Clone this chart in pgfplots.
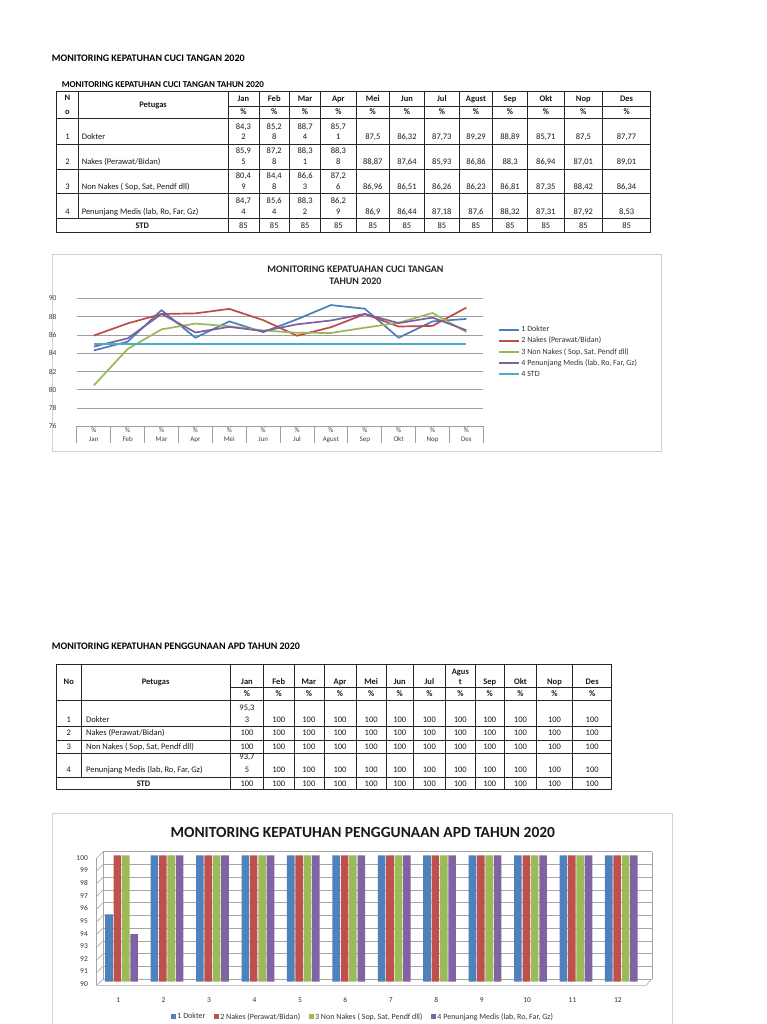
\documentclass[border=0pt]{standalone}
\usepackage{fontspec}
\setmainfont{Carlito}
\usepackage{pgfplots}
\pgfplotsset{compat=1.18}
\definecolor{cA}{HTML}{4A7EBB}
\definecolor{cB}{HTML}{BE4B48}
\definecolor{cC}{HTML}{98B954}
\definecolor{cD}{HTML}{7D60A0}
\definecolor{cE}{HTML}{4BACC6}
\definecolor{bA}{HTML}{4F81BD}
\definecolor{bB}{HTML}{C0504D}
\definecolor{bC}{HTML}{9BBB59}
\definecolor{bD}{HTML}{8064A2}
\newcommand{\tf}{\fontsize{8.5}{10}\selectfont}
\tikzset{tc/.style={inner sep=0pt, font=\tf, anchor=base, text=black!90},
         tb/.style={tc, font=\tf\bfseries},
         tl/.style={tc, anchor=base west}}
\begin{document}
\begin{tikzpicture}
\begin{scope}[x=1pt,y=-1pt]
\useasboundingbox[fill=white] (0,0) rectangle (768,1024);
% ---------------- titles
\node[anchor=west,inner sep=0pt,font=\fontsize{10}{12}\selectfont\bfseries] at (51.7,58.3) {MONITORING KEPATUHAN CUCI TANGAN 2020};
\node[anchor=west,inner sep=0pt,font=\fontsize{9}{11}\selectfont\bfseries] at (61.7,85) {MONITORING KEPATUHAN CUCI TANGAN TAHUN 2020};
% ---------------- table 1
\begin{scope}[draw=black!85, line width=0.5pt]
\foreach \x in {228.3,259.3,290,321,356.7,390,425,460,493.3,528.3,565,603.3} \draw (\x,91.7) -- (\x,233);
\draw (78.3,91.7) -- (78.3,219);
\draw (228.3,106) -- (651.7,106);
\foreach \y in {118,144,169,194,219} \draw (56.7,\y) -- (651.7,\y);
\draw[line width=0.9pt] (56.7,91.7) rectangle (651.7,233);
\end{scope}
\node[tb] at (67.5,101.1) {N};
\node[tb] at (67.5,114.3) {o};
\node[tb] at (153.3,107.8) {Petugas};
\node[tb] at (142.5,228.8) {STD};
\foreach \cx/\m in {243.8/Jan,274.65/Feb,305.5/Mar,338.85/Apr,373.35/Mei,407.5/Jun,442.5/Jul,476.65/Agust,510.8/Sep,546.65/Okt,584.15/Nop,627.5/Des}{
  \node[tb] at (\cx,101.8) {\m};
  \node[tb] at (\cx,114.8) {\%};
  \node[tc] at (\cx,228.8) {85};
}
\node[tc] at (67.5,139.5) {1}; \node[tl] at (81.7,139.5) {Dokter};
\node[tc] at (67.5,164.5) {2}; \node[tl] at (81.7,164.5) {Nakes (Perawat/Bidan)};
\node[tc] at (67.5,189.5) {3}; \node[tl] at (81.7,189.5) {Non Nakes ( Sop, Sat, Pendf dll)};
\node[tc] at (67.5,214.5) {4}; \node[tl] at (81.7,214.5) {Penunjang Medis (lab, Ro, Far, Gz)};
\foreach \cx/\a/\b in {243.8/{84,3}/2, 274.65/{85,2}/8, 305.5/{88,7}/4, 338.85/{85,7}/1, 373.35//{87,5}, 407.5//{86,32}, 442.5//{87,73}, 476.65//{89,29}, 510.8//{88,89}, 546.65//{85,71}, 584.15//{87,5}, 627.5//{87,77}}{
  \node[tc] at (\cx,129.5) {\a}; \node[tc] at (\cx,139.5) {\b};}
\foreach \cx/\a/\b in {243.8/{85,9}/5, 274.65/{87,2}/8, 305.5/{88,3}/1, 338.85/{88,3}/8, 373.35//{88,87}, 407.5//{87,64}, 442.5//{85,93}, 476.65//{86,86}, 510.8//{88,3}, 546.65//{86,94}, 584.15//{87,01}, 627.5//{89,01}}{
  \node[tc] at (\cx,153.8) {\a}; \node[tc] at (\cx,164.5) {\b};}
\foreach \cx/\a/\b in {243.8/{80,4}/9, 274.65/{84,4}/8, 305.5/{86,6}/3, 338.85/{87,2}/6, 373.35//{86,96}, 407.5//{86,51}, 442.5//{86,26}, 476.65//{86,23}, 510.8//{86,81}, 546.65//{87,35}, 584.15//{88,42}, 627.5//{86,34}}{
  \node[tc] at (\cx,178.5) {\a}; \node[tc] at (\cx,189.5) {\b};}
\foreach \cx/\a/\b in {243.8/{84,7}/4, 274.65/{85,6}/4, 305.5/{88,3}/2, 338.85/{86,2}/9, 373.35//{86,9}, 407.5//{86,44}, 442.5//{87,18}, 476.65//{87,6}, 510.8//{88,32}, 546.65//{87,31}, 584.15//{87,92}, 627.5//{8,53}}{
  \node[tc] at (\cx,203.5) {\a}; \node[tc] at (\cx,214.5) {\b};}
% ---------------- chart 1 frame
\draw[draw=black!18, line width=0.8pt] (52,255) rectangle (662,452);
\node[inner sep=0pt, align=center, font=\fontsize{10}{12}\selectfont\bfseries, text=black!85] at (356,276) {MONITORING KEPATUAHAN CUCI TANGAN\\TAHUN 2020};
% ---------------- title 3
\node[anchor=west,inner sep=0pt,font=\fontsize{10}{12}\selectfont\bfseries] at (51.7,646.7) {MONITORING KEPATUHAN PENGGUNAAN APD TAHUN 2020};
% ---------------- table 2
\begin{scope}[draw=black!85, line width=0.5pt]
\foreach \x in {230.7,264,294.3,324.3,356.7,386.7,414,446,476,505,537.3,573.3} \draw (\x,665) -- (\x,791);
\draw (81,665) -- (81,778.5);
\draw (230.7,688.5) -- (612.7,688.5);
\foreach \y in {701.5,727,741,754,778.5} \draw (56.7,\y) -- (612.7,\y);
\draw[line width=0.9pt] (56.7,665) rectangle (612.7,791);
\end{scope}
\node[tb] at (68.85,685.8) {No};
\node[tb] at (155.85,685.8) {Petugas};
\node[tb] at (143.7,787.8) {STD};
\foreach \cx/\m in {247.35/Jan,279.15/Feb,309.3/Mar,340.5/Apr,371.7/Mei,400.35/Jun,430/Jul,490.5/Sep,521.15/Okt,555.3/Nop,593/Des}{
  \node[tb] at (\cx,685.8) {\m};}
\node[tb] at (461,675.5) {Agus};
\node[tb] at (461,685.8) {t};
\foreach \cx in {247.35,279.15,309.3,340.5,371.7,400.35,430,461,490.5,521.15,555.3,593}{
  \node[tb] at (\cx,697.8) {\%};
  \node[tc] at (\cx,736.8) {100};
  \node[tc] at (\cx,750.3) {100};
  \node[tc] at (\cx,787.8) {100};}
\foreach \cx in {279.15,309.3,340.5,371.7,400.35,430,461,490.5,521.15,555.3,593}{
  \node[tc] at (\cx,723.8) {100};
  \node[tc] at (\cx,773.8) {100};}
\node[tc] at (247.35,711.8) {95,3}; \node[tc] at (247.35,723.8) {3};
\node[tc] at (247.35,761) {93,7}; \node[tc] at (247.35,773.8) {5};
\node[tc] at (68.85,723.8) {1}; \node[tl] at (86,723.8) {Dokter};
\node[tc] at (68.85,736.8) {2}; \node[tl] at (86,736.8) {Nakes (Perawat/Bidan)};
\node[tc] at (68.85,750.3) {3}; \node[tl] at (86,750.3) {Non Nakes ( Sop, Sat, Pendf dll)};
\node[tc] at (68.85,773.8) {4}; \node[tl] at (86,773.8) {Penunjang Medis (lab, Ro, Far, Gz)};
% ---------------- chart 2 frame and 3D walls
\draw[draw=black!18, line width=0.8pt] (52.7,815) rectangle (673,1040);
\node[inner sep=0pt, font=\fontsize{15.5}{18}\selectfont\bfseries, text=black!90] at (363.3,833.3) {MONITORING KEPATUHAN PENGGUNAAN APD TAHUN 2020};
\begin{scope}[draw=black!35, line width=0.6pt]
\foreach \v in {0,...,10}{
  \draw (103.3,980.5-12.75*\v) -- (653,980.5-12.75*\v);
  \draw (96.7,986.8-12.75*\v) -- (103.3,980.5-12.75*\v);}
\draw (96.7,986.8) -- (96.7,859.3);
\draw (103.3,980.5) -- (103.3,853);
\draw (653,980.5) -- (653,853);
\draw (96.7,986.8) -- (646.7,986.8) -- (653,980.5);
\end{scope}
\end{scope}
% ---------------- chart 1
\begin{axis}[at={(77pt,-427pt)}, anchor=south west, scale only axis, width=407pt, height=128pt,
  /pgf/number format/assume math mode=true,
  xmin=0.5, xmax=12.5, ymin=76, ymax=90,
  ytick={76,78,...,90}, ymajorgrids, grid style={draw=black!38, line width=1pt},
  axis line style={draw=none},
  xtick={0.5,1.5,...,12.5}, xticklabels={}, xtick pos=left, tick align=outside,
  major tick length=17pt, tick style={draw=black!38, line width=0.8pt},
  ytick style={draw=none},
  extra x ticks={1,...,12},
  extra x tick labels={{\%\\Jan},{\%\\Feb},{\%\\Mar},{\%\\Apr},{\%\\Mei},{\%\\Jun},{\%\\Jul},{\%\\Agust},{\%\\Sep},{\%\\Okt},{\%\\Nop},{\%\\Des}},
  extra x tick style={major tick length=0pt, tick style={draw=none}, xticklabel style={align=center, font=\fontsize{7}{9}\selectfont, text=black!75, inner sep=1.5pt}},
  yticklabel style={font=\fontsize{7.5}{9}\selectfont, text=black!75},
  legend style={at={(1.0295,0.81)}, anchor=north west, draw=none, fill=none, font=\fontsize{8}{9}\selectfont, text=black!80, row sep=2pt, nodes={inner sep=1pt}},
  legend cell align=left,
  legend image code/.code={\draw[#1, line width=2pt] (0pt,0pt) -- (20pt,0pt);},
  every axis plot/.append style={line width=1.7pt, mark=none, line join=round}
]
\addplot[cA] coordinates {(1,84.32)(2,85.28)(3,88.74)(4,85.71)(5,87.5)(6,86.32)(7,87.73)(8,89.29)(9,88.89)(10,85.71)(11,87.5)(12,87.77)};
\addplot[cB] coordinates {(1,85.95)(2,87.28)(3,88.31)(4,88.38)(5,88.87)(6,87.64)(7,85.93)(8,86.86)(9,88.3)(10,86.94)(11,87.01)(12,89.01)};
\addplot[cC] coordinates {(1,80.49)(2,84.48)(3,86.63)(4,87.26)(5,86.96)(6,86.51)(7,86.26)(8,86.23)(9,86.81)(10,87.35)(11,88.42)(12,86.34)};
\addplot[cD] coordinates {(1,84.74)(2,85.64)(3,88.32)(4,86.29)(5,86.9)(6,86.44)(7,87.18)(8,87.6)(9,88.32)(10,87.31)(11,87.92)(12,86.53)};
\addplot[cE] coordinates {(1,85)(2,85)(3,85)(4,85)(5,85)(6,85)(7,85)(8,85)(9,85)(10,85)(11,85)(12,85)};
\legend{1 Dokter, 2 Nakes (Perawat/Bidan), {3 Non Nakes ( Sop, Sat, Pendf dll)}, {4 Penunjang Medis (lab, Ro, Far, Gz)}, 4 STD}
\end{axis}
% ---------------- chart 2
\begin{axis}[at={(99pt,-983pt)}, anchor=south west, scale only axis, width=546pt, height=126.5pt,
  /pgf/number format/assume math mode=true,
  xmin=0.5, xmax=12.5, ymin=90, ymax=100,
  ybar=0.8pt, bar width=7.6pt,
  axis line style={draw=none},
  xtick={1,...,12}, ytick={90,...,100},
  tick style={draw=none},
  xticklabel style={font=\fontsize{7.5}{9}\selectfont, text=black!80, anchor=base, xshift=-3.4pt, yshift=-16.5pt},
  yticklabel style={font=\fontsize{7.5}{9}\selectfont, text=black!80, xshift=-7.5pt, yshift=-2.5pt},
  legend style={at={(0.484,-0.279)}, anchor=center, draw=none, fill=none, font=\fontsize{8}{9}\selectfont, text=black!80, legend columns=4, /tikz/every even column/.append style={column sep=7pt}, nodes={inner sep=1.5pt}},
  legend image code/.code={\fill[#1] (0pt,-2.5pt) rectangle (5pt,2.5pt);},
  every axis plot/.append style={draw=none}
]
\addplot[fill=bA] coordinates {(1,95.33)(2,100)(3,100)(4,100)(5,100)(6,100)(7,100)(8,100)(9,100)(10,100)(11,100)(12,100)};
\addplot[fill=bB] coordinates {(1,100)(2,100)(3,100)(4,100)(5,100)(6,100)(7,100)(8,100)(9,100)(10,100)(11,100)(12,100)};
\addplot[fill=bC] coordinates {(1,100)(2,100)(3,100)(4,100)(5,100)(6,100)(7,100)(8,100)(9,100)(10,100)(11,100)(12,100)};
\addplot[fill=bD] coordinates {(1,93.75)(2,100)(3,100)(4,100)(5,100)(6,100)(7,100)(8,100)(9,100)(10,100)(11,100)(12,100)};
\legend{1 Dokter, 2 Nakes (Perawat/Bidan), {3 Non Nakes ( Sop, Sat, Pendf dll)}, {4 Penunjang Medis (lab, Ro, Far, Gz)}}
\end{axis}
\end{tikzpicture}
\end{document}
